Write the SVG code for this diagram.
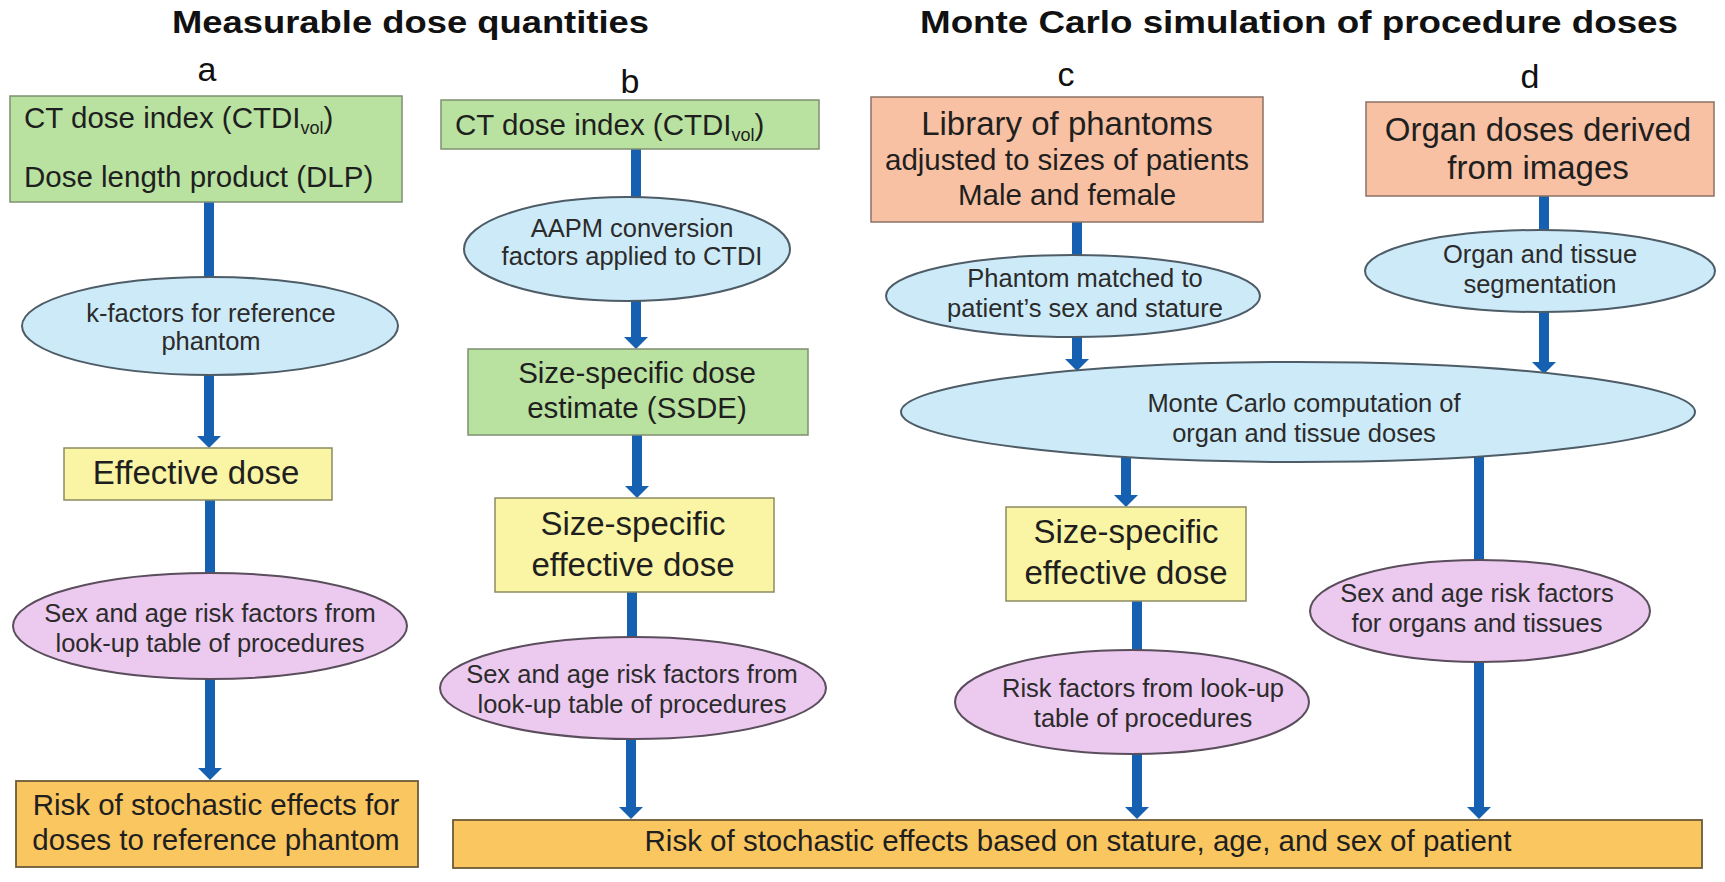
<svg xmlns="http://www.w3.org/2000/svg" width="1725" height="882" viewBox="0 0 1725 882">
<defs>
<marker id="ah" viewBox="0 0 12 24" markerWidth="12" markerHeight="24" refX="1" refY="12" orient="auto" markerUnits="userSpaceOnUse">
<path d="M0,0 L12,12 L0,24 z" fill="#1560b0"/>
</marker>
</defs>
<style>
text{font-family:"Liberation Sans",Arial,sans-serif;fill:#1f1f1f}
.title{font-size:31px;font-weight:bold;fill:#111}
.lbl{font-size:34px;text-anchor:middle;fill:#111}
.big{font-size:29.5px;text-anchor:middle}
.bigger{font-size:33px;text-anchor:middle}
.sm{font-size:25.5px;text-anchor:middle;fill:#2b2b2b}
.green{fill:#b9e2a0;stroke:#7f8f70;stroke-width:1.5}
.yellow{fill:#faf5a4;stroke:#8c8a60;stroke-width:1.5}
.orange{fill:#fac660;stroke:#6e5a3a;stroke-width:1.8}
.salmon{fill:#f8c1a3;stroke:#8a7266;stroke-width:1.5}
.blue{fill:#cdeaf8;stroke:#4d5c66;stroke-width:2}
.pink{fill:#ecc9ef;stroke:#5a4d5c;stroke-width:2}
.c line{stroke:#1560b0;stroke-width:10}
.c line.a{marker-end:url(#ah)}
</style>
<rect width="1725" height="882" fill="#ffffff"/>
<g id="titles">
<text class="title" x="172" y="33" textLength="477" lengthAdjust="spacingAndGlyphs">Measurable dose quantities</text>
<text class="title" x="920" y="33" textLength="758" lengthAdjust="spacingAndGlyphs">Monte Carlo simulation of procedure doses</text>
<text class="lbl" x="207" y="81">a</text>
<text class="lbl" x="630" y="93">b</text>
<text class="lbl" x="1066" y="86">c</text>
<text class="lbl" x="1530" y="88">d</text>
</g>
<g class="c" id="connectors">
<line x1="209" y1="202" x2="209" y2="279"/>
<line class="a" x1="209" y1="374" x2="209" y2="437"/>
<line x1="210" y1="500" x2="210" y2="574"/>
<line class="a" x1="210" y1="678" x2="210" y2="769"/>
<line x1="636" y1="149" x2="636" y2="198"/>
<line class="a" x1="636" y1="300" x2="636" y2="338"/>
<line class="a" x1="637" y1="435" x2="637" y2="487"/>
<line x1="632" y1="592" x2="632" y2="638"/>
<line class="a" x1="631" y1="738" x2="631" y2="808"/>
<line x1="1077" y1="222" x2="1077" y2="256"/>
<line class="a" x1="1077" y1="337" x2="1077" y2="360"/>
<line class="a" x1="1126" y1="456" x2="1126" y2="496"/>
<line x1="1137" y1="601" x2="1137" y2="651"/>
<line class="a" x1="1137" y1="753" x2="1137" y2="808"/>
<line x1="1544" y1="196" x2="1544" y2="231"/>
<line class="a" x1="1544" y1="312" x2="1544" y2="363"/>
<line x1="1479" y1="456" x2="1479" y2="561"/>
<line class="a" x1="1479" y1="661" x2="1479" y2="808"/>
</g>
<g id="a_ctdi">
<rect class="green" x="10" y="96" width="392" height="106"/>
<text x="24" y="128" style="font-size:29.5px">CT dose index (CTDI<tspan style="font-size:18px" dy="6">vol</tspan><tspan dy="-6">)</tspan></text>
<text x="24" y="187" style="font-size:29.5px">Dose length product (DLP)</text>
</g>
<g id="a_kfactors">
<ellipse class="blue" cx="210" cy="326" rx="188" ry="49"/>
<text class="sm" x="211" y="322">k-factors for reference</text>
<text class="sm" x="211" y="350">phantom</text>
</g>
<g id="a_effective">
<rect class="yellow" x="64" y="448" width="268" height="52"/>
<text class="bigger" x="196" y="484">Effective dose</text>
</g>
<g id="a_risk_factors">
<ellipse class="pink" cx="210" cy="626" rx="197" ry="53"/>
<text class="sm" x="210" y="622">Sex and age risk factors from</text>
<text class="sm" x="210" y="652">look-up table of procedures</text>
</g>
<g id="a_risk">
<rect class="orange" x="16" y="781" width="402" height="86"/>
<text class="big" x="216" y="815">Risk of stochastic effects for</text>
<text class="big" x="216" y="850">doses to reference phantom</text>
</g>
<g id="b_ctdi">
<rect class="green" x="441" y="100" width="378" height="49"/>
<text x="455" y="135" style="font-size:29.5px">CT dose index (CTDI<tspan style="font-size:18px" dy="6">vol</tspan><tspan dy="-6">)</tspan></text>
</g>
<g id="b_aapm">
<ellipse class="blue" cx="627" cy="249" rx="163" ry="52"/>
<text class="sm" x="632" y="237">AAPM  conversion</text>
<text class="sm" x="632" y="265">factors applied  to CTDI</text>
</g>
<g id="b_ssde">
<rect class="green" x="468" y="349" width="340" height="86"/>
<text class="big" x="637" y="383">Size-specific dose</text>
<text class="big" x="637" y="418">estimate (SSDE)</text>
</g>
<g id="b_effective">
<rect class="yellow" x="495" y="498" width="279" height="94"/>
<text class="bigger" x="633" y="535">Size-specific</text>
<text class="bigger" x="633" y="576">effective  dose</text>
</g>
<g id="b_risk_factors">
<ellipse class="pink" cx="633" cy="688" rx="193" ry="51"/>
<text class="sm" x="632" y="683">Sex and age risk factors from</text>
<text class="sm" x="632" y="713">look-up  table  of procedures</text>
</g>
<g id="c_library">
<rect class="salmon" x="871" y="97" width="392" height="125"/>
<text class="bigger" x="1067" y="135">Library of phantoms</text>
<text class="big" x="1067" y="170">adjusted to sizes of patients</text>
<text class="big" x="1067" y="205">Male and female</text>
</g>
<g id="c_phantom">
<ellipse class="blue" cx="1073" cy="296" rx="187" ry="41"/>
<text class="sm" x="1085" y="287">Phantom  matched to</text>
<text class="sm" x="1085" y="317">patient’s  sex and  stature</text>
</g>
<g id="monte_carlo">
<ellipse class="blue" cx="1298" cy="412" rx="397" ry="50"/>
<text class="sm" x="1304" y="412">Monte  Carlo computation  of</text>
<text class="sm" x="1304" y="442">organ and tissue doses</text>
</g>
<g id="c_effective">
<rect class="yellow" x="1006" y="507" width="240" height="94"/>
<text class="bigger" x="1126" y="543">Size-specific</text>
<text class="bigger" x="1126" y="584">effective  dose</text>
</g>
<g id="c_risk_factors">
<ellipse class="pink" cx="1132" cy="702" rx="177" ry="52"/>
<text class="sm" x="1143" y="697">Risk factors from look-up</text>
<text class="sm" x="1143" y="727">table of procedures</text>
</g>
<g id="d_organ">
<rect class="salmon" x="1366" y="102" width="348" height="94"/>
<text class="bigger" x="1538" y="141">Organ doses derived</text>
<text class="bigger" x="1538" y="179">from images</text>
</g>
<g id="d_segmentation">
<ellipse class="blue" cx="1540" cy="271" rx="175" ry="41"/>
<text class="sm" x="1540" y="263">Organ and tissue</text>
<text class="sm" x="1540" y="293">segmentation</text>
</g>
<g id="d_risk_factors">
<ellipse class="pink" cx="1480" cy="611" rx="170" ry="51"/>
<text class="sm" x="1477" y="602">Sex and age risk factors</text>
<text class="sm" x="1477" y="632">for organs and tissues</text>
</g>
<g id="final_risk">
<rect class="orange" x="453" y="820" width="1249" height="48"/>
<text class="big" x="1078" y="851">Risk of stochastic effects based on stature, age, and sex of patient</text>
</g>
</svg>
